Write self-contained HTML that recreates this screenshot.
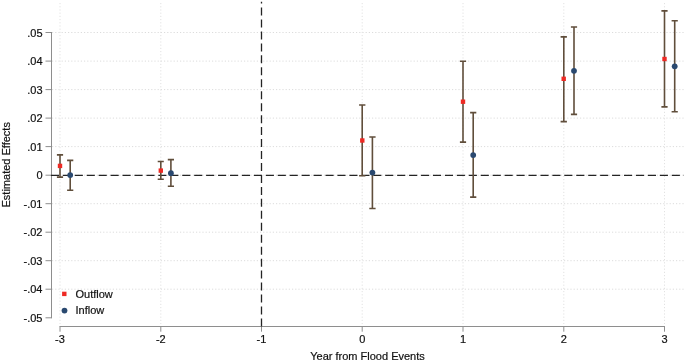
<!DOCTYPE html>
<html><head><meta charset="utf-8"><title>Estimated Effects by Year from Flood Events</title>
<style>html,body{margin:0;padding:0;background:#fff}svg{display:block}text{stroke:#111;stroke-width:.2px}</style></head>
<body>
<svg width="685" height="363" viewBox="0 0 685 363" font-family="Liberation Sans, Arial, Helvetica, sans-serif" font-size="11" fill="#111">
<rect width="685" height="363" fill="#fff"/>
<g stroke="#dcdcdc" stroke-width="1" stroke-dasharray="1.2 2"><line x1="52" x2="684" y1="289.2" y2="289.2"/><line x1="52" x2="684" y1="260.7" y2="260.7"/><line x1="52" x2="684" y1="232.2" y2="232.2"/><line x1="52" x2="684" y1="203.7" y2="203.7"/><line x1="52" x2="684" y1="175.2" y2="175.2"/><line x1="52" x2="684" y1="146.6" y2="146.6"/><line x1="52" x2="684" y1="118.1" y2="118.1"/><line x1="52" x2="684" y1="89.6" y2="89.6"/><line x1="52" x2="684" y1="61.1" y2="61.1"/><line x1="52" x2="684" y1="32.5" y2="32.5"/><line x1="60.0" x2="60.0" y1="3" y2="324" stroke="#e2e2e2"/><line x1="160.8" x2="160.8" y1="3" y2="324" stroke="#e2e2e2"/><line x1="362.2" x2="362.2" y1="3" y2="324" stroke="#e2e2e2"/><line x1="463.0" x2="463.0" y1="3" y2="324" stroke="#e2e2e2"/><line x1="563.8" x2="563.8" y1="3" y2="324" stroke="#e2e2e2"/><line x1="664.5" x2="664.5" y1="3" y2="324" stroke="#e2e2e2"/></g>
<g stroke="#8e8e8e" stroke-width="1"><line x1="51.5" x2="51.5" y1="32.0" y2="318.3"/><line x1="45.5" x2="51.5" y1="317.8" y2="317.8"/><line x1="45.5" x2="51.5" y1="289.2" y2="289.2"/><line x1="45.5" x2="51.5" y1="260.7" y2="260.7"/><line x1="45.5" x2="51.5" y1="232.2" y2="232.2"/><line x1="45.5" x2="51.5" y1="203.7" y2="203.7"/><line x1="45.5" x2="51.5" y1="175.2" y2="175.2"/><line x1="45.5" x2="51.5" y1="146.6" y2="146.6"/><line x1="45.5" x2="51.5" y1="118.1" y2="118.1"/><line x1="45.5" x2="51.5" y1="89.6" y2="89.6"/><line x1="45.5" x2="51.5" y1="61.1" y2="61.1"/><line x1="45.5" x2="51.5" y1="32.5" y2="32.5"/><line x1="59.5" x2="665.0" y1="326.5" y2="326.5"/><line x1="60.0" x2="60.0" y1="326.5" y2="331.7"/><line x1="160.8" x2="160.8" y1="326.5" y2="331.7"/><line x1="261.5" x2="261.5" y1="326.5" y2="331.7"/><line x1="362.2" x2="362.2" y1="326.5" y2="331.7"/><line x1="463.0" x2="463.0" y1="326.5" y2="331.7"/><line x1="563.8" x2="563.8" y1="326.5" y2="331.7"/><line x1="664.5" x2="664.5" y1="326.5" y2="331.7"/></g>
<g stroke="#242424" stroke-width="1.3"><line x1="50.9" x2="684" y1="175.4" y2="175.4" stroke-dasharray="8.1 3.84"/><line x1="261.5" x2="261.5" y1="1.8" y2="326.5" stroke-dasharray="8 3.96" stroke-dashoffset="6.26"/></g>
<g stroke="#604e3b" stroke-width="1.6" fill="none"><path d="M60.0 154.9V177.1M56.9 154.9H63.1M56.9 177.1H63.1"/><path d="M160.8 161.5V179.2M157.7 161.5H163.8M157.7 179.2H163.8"/><path d="M362.2 105.0V175.7M359.1 105.0H365.4M359.1 175.7H365.4"/><path d="M463.0 61.2V142.1M459.9 61.2H466.1M459.9 142.1H466.1"/><path d="M563.8 36.9V121.6M560.6 36.9H566.9M560.6 121.6H566.9"/><path d="M664.5 10.9V106.9M661.4 10.9H667.6M661.4 106.9H667.6"/><path d="M70.2 160.4V190.3M67.1 160.4H73.3M67.1 190.3H73.3"/><path d="M170.9 159.6V186.3M167.8 159.6H174.0M167.8 186.3H174.0"/><path d="M372.4 137.0V208.5M369.3 137.0H375.6M369.3 208.5H375.6"/><path d="M473.2 112.6V197.1M470.1 112.6H476.3M470.1 197.1H476.3"/><path d="M574.0 27.0V114.4M570.9 27.0H577.1M570.9 114.4H577.1"/><path d="M674.7 20.8V111.7M671.6 20.8H677.8M671.6 111.7H677.8"/></g>
<rect x="57.8" y="163.7" width="4.4" height="4.4" fill="#ee2a24"/><rect x="158.6" y="168.4" width="4.4" height="4.4" fill="#ee2a24"/><rect x="360.1" y="138.3" width="4.4" height="4.4" fill="#ee2a24"/><rect x="460.8" y="99.5" width="4.4" height="4.4" fill="#ee2a24"/><rect x="561.5" y="76.6" width="4.4" height="4.4" fill="#ee2a24"/><rect x="662.3" y="56.8" width="4.4" height="4.4" fill="#ee2a24"/><circle cx="70.2" cy="175.1" r="2.9" fill="#2a4970"/><circle cx="170.9" cy="173.2" r="2.9" fill="#2a4970"/><circle cx="372.4" cy="172.6" r="2.9" fill="#2a4970"/><circle cx="473.2" cy="155.1" r="2.9" fill="#2a4970"/><circle cx="574.0" cy="70.8" r="2.9" fill="#2a4970"/><circle cx="674.7" cy="66.3" r="2.9" fill="#2a4970"/>
<rect x="62.1" y="291.7" width="4.4" height="4.4" fill="#ee2a24"/><circle cx="64.5" cy="310.6" r="2.9" fill="#2a4970"/>
<text x="75.5" y="297.7">Outflow</text><text x="75.5" y="314.3">Inflow</text>
<text x="42.5" y="36.5" text-anchor="end">.05</text><text x="42.5" y="65.1" text-anchor="end">.04</text><text x="42.5" y="93.6" text-anchor="end">.03</text><text x="42.5" y="122.1" text-anchor="end">.02</text><text x="42.5" y="150.6" text-anchor="end">.01</text><text x="42.5" y="179.2" text-anchor="end">0</text><text x="42.5" y="207.7" text-anchor="end">-.01</text><text x="42.5" y="236.2" text-anchor="end">-.02</text><text x="42.5" y="264.7" text-anchor="end">-.03</text><text x="42.5" y="293.2" text-anchor="end">-.04</text><text x="42.5" y="321.8" text-anchor="end">-.05</text><text x="60.0" y="342.8" text-anchor="middle">-3</text><text x="160.8" y="342.8" text-anchor="middle">-2</text><text x="261.5" y="342.8" text-anchor="middle">-1</text><text x="362.2" y="342.8" text-anchor="middle">0</text><text x="463.0" y="342.8" text-anchor="middle">1</text><text x="563.8" y="342.8" text-anchor="middle">2</text><text x="664.5" y="342.8" text-anchor="middle">3</text>
<text x="367.5" y="360" text-anchor="middle">Year from Flood Events</text>
<text transform="translate(9.8 164.8) rotate(-90)" text-anchor="middle">Estimated Effects</text>
</svg>
</body></html>
